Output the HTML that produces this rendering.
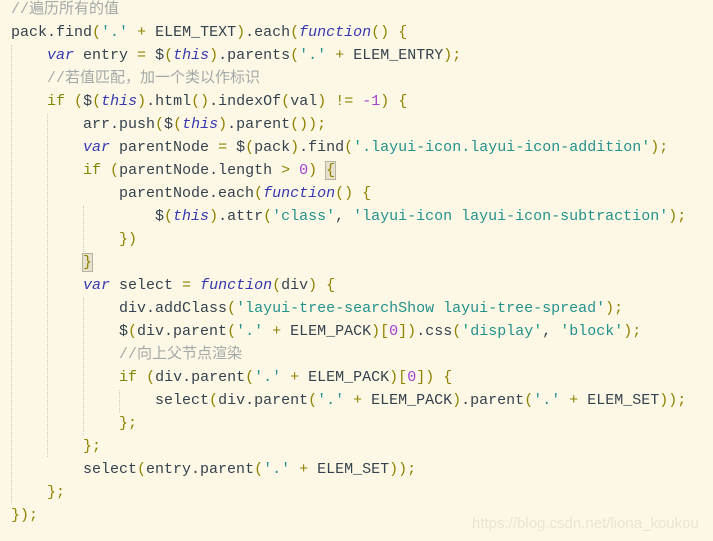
<!DOCTYPE html>
<html><head><meta charset="utf-8"><style>
html,body{margin:0;padding:0;}
body{width:713px;height:541px;background:#fdf8e5;overflow:hidden;position:relative;}
pre{position:absolute;left:11px;top:-2px;margin:0;font-family:"Liberation Mono","Noto Sans CJK SC",monospace;font-size:15px;line-height:23px;color:#34424f;white-space:pre;}
.k{color:#3538b0;font-style:italic}
.p{color:#8f8200}
.s{color:#23918c}
.n{color:#a23fd0}
.c{color:#a3a8a8}
.i{color:#7c8a00}
.b{background:#e6e1cc;outline:1px solid #b8b39e}
.g{position:absolute;width:0;border-left:1px dotted #d0cbb5}
.w{position:absolute;left:472px;top:515px;font-family:"Liberation Sans",sans-serif;font-size:15px;color:#e9e4d3}
</style></head><body>
<div class="g" style="left:11px;top:45px;height:458px"></div>
<div class="g" style="left:47px;top:114px;height:343px"></div>
<div class="g" style="left:83px;top:206px;height:46px"></div>
<div class="g" style="left:83px;top:298px;height:138px"></div>
<div class="g" style="left:119px;top:390px;height:23px"></div>
<pre><span class="c">//遍历所有的值</span>
pack.find<span class="p">(</span><span class="s">'.'</span> <span class="p">+</span> ELEM_TEXT<span class="p">)</span>.each<span class="p">(</span><span class="k">function</span><span class="p">()</span> <span class="p">{</span>
    <span class="k">var</span> entry <span class="p">=</span> $<span class="p">(</span><span class="k">this</span><span class="p">)</span>.parents<span class="p">(</span><span class="s">'.'</span> <span class="p">+</span> ELEM_ENTRY<span class="p">);</span>
    <span class="c">//若值匹配，加一个类以作标识</span>
    <span class="i">if</span> <span class="p">(</span>$<span class="p">(</span><span class="k">this</span><span class="p">)</span>.html<span class="p">()</span>.indexOf<span class="p">(</span>val<span class="p">)</span> <span class="p">!=</span> <span class="n">-1</span><span class="p">)</span> <span class="p">{</span>
        arr.push<span class="p">(</span>$<span class="p">(</span><span class="k">this</span><span class="p">)</span>.parent<span class="p">());</span>
        <span class="k">var</span> parentNode <span class="p">=</span> $<span class="p">(</span>pack<span class="p">)</span>.find<span class="p">(</span><span class="s">'.layui-icon.layui-icon-addition'</span><span class="p">);</span>
        <span class="i">if</span> <span class="p">(</span>parentNode.length <span class="p">&gt;</span> <span class="n">0</span><span class="p">)</span> <span class="p b">{</span>
            parentNode.each<span class="p">(</span><span class="k">function</span><span class="p">()</span> <span class="p">{</span>
                $<span class="p">(</span><span class="k">this</span><span class="p">)</span>.attr<span class="p">(</span><span class="s">'class'</span>, <span class="s">'layui-icon layui-icon-subtraction'</span><span class="p">);</span>
            <span class="p">})</span>
        <span class="p b">}</span>
        <span class="k">var</span> select <span class="p">=</span> <span class="k">function</span><span class="p">(</span>div<span class="p">)</span> <span class="p">{</span>
            div.addClass<span class="p">(</span><span class="s">'layui-tree-searchShow layui-tree-spread'</span><span class="p">);</span>
            $<span class="p">(</span>div.parent<span class="p">(</span><span class="s">'.'</span> <span class="p">+</span> ELEM_PACK<span class="p">)[</span><span class="n">0</span><span class="p">])</span>.css<span class="p">(</span><span class="s">'display'</span>, <span class="s">'block'</span><span class="p">);</span>
            <span class="c">//向上父节点渲染</span>
            <span class="i">if</span> <span class="p">(</span>div.parent<span class="p">(</span><span class="s">'.'</span> <span class="p">+</span> ELEM_PACK<span class="p">)[</span><span class="n">0</span><span class="p">])</span> <span class="p">{</span>
                select<span class="p">(</span>div.parent<span class="p">(</span><span class="s">'.'</span> <span class="p">+</span> ELEM_PACK<span class="p">)</span>.parent<span class="p">(</span><span class="s">'.'</span> <span class="p">+</span> ELEM_SET<span class="p">));</span>
            <span class="p">};</span>
        <span class="p">};</span>
        select<span class="p">(</span>entry.parent<span class="p">(</span><span class="s">'.'</span> <span class="p">+</span> ELEM_SET<span class="p">));</span>
    <span class="p">};</span>
<span class="p">});</span></pre>
<div class="w">https://blog.csdn.net/liona_koukou</div>
</body></html>
